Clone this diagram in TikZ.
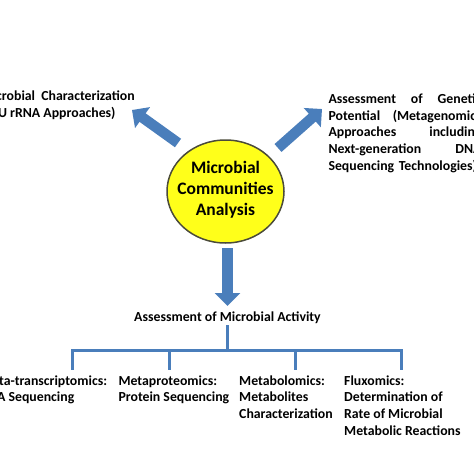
\documentclass[tikz,border=0pt]{standalone}
\usepackage{fontspec}
\setmainfont{Carlito}
\usetikzlibrary{arrows.meta,shapes.geometric}
\definecolor{arrowblue}{HTML}{4A7EBB}
\definecolor{hubyellow}{HTML}{FFFF1A}
\definecolor{hubrim}{HTML}{4B4B3A}
\begin{document}
\begin{tikzpicture}[x=1pt, y=-1pt]
    \tikzset{topic/.style={font=\bfseries\fontsize{13.8}{16.7}\selectfont,
        align=left, inner sep=0pt}}
    \tikzset{hub/.style={ellipse, draw=hubrim, line width=1.5pt,
        fill=hubyellow, minimum width=117pt, minimum height=103pt, inner sep=0pt}}
    \tikzset{hub text/.style={font=\bfseries\fontsize{17.5}{21}\selectfont,
        align=center, inner sep=0pt}}
    \tikzset{block arrow/.style={arrowblue, line width=10.5pt,
        -{Triangle[length=13pt, width=25pt]}}}
    \tikzset{branch/.style={arrowblue, line width=3pt, line cap=rect}}

    \useasboundingbox (0,0) rectangle (474,474);
    \clip (0,0) rectangle (474,474);

    \node (hub) [hub] at (225.5,191.5) {};
    \node (hubtext) [hub text] at (225.5,189.5) {Microbial\\Communities\\Analysis};

    % base anchor: last line, or first line when a text width is set
    \node (charac) [topic, anchor=base east] at (135,117.3)
        {Microbial\ \ Characterization\\(SSU rRNA Approaches)};
    \node (genetic) [topic, anchor=base west, text width=153pt] at (328.3,103.3)
        {Assessment\hfill of\hfill Genetic\\Potential\hfill (Metagenomics\\
         Approaches\hfill including\\Next-generation\hfill DNA\\
         Sequencing Technologies)};
    \node (activity) [topic, anchor=base] at (227.5,321.7)
        {Assessment of Microbial Activity};

    \coordinate (charac tail) at (178,143);
    \coordinate (charac tip) at (132,110);
    \coordinate (genetic tail) at (278,148);
    \coordinate (genetic tip) at (322,109);
    \coordinate (activity tail) at (227.5,248);
    \coordinate (activity tip) at (227.5,306);

    \draw [block arrow] (charac tail) -- (charac tip);
    \draw [block arrow] (genetic tail) -- (genetic tip);
    \draw [block arrow] (activity tail) -- (activity tip);

    \node (col1) [topic, anchor=base west] at (-20,401.7)
        {Meta-transcriptomics:\\RNA Sequencing};
    \node (col2) [topic, anchor=base west] at (118.3,401.7)
        {Metaproteomics:\\Protein Sequencing};
    \node (col3) [topic, anchor=base west] at (239,418.4)
        {Metabolomics:\\Metabolites\\Characterization};
    \node (col4) [topic, anchor=base west] at (344,435.1)
        {Fluxomics:\\Determination of\\Rate of Microbial\\Metabolic Reactions};

    \coordinate (fork) at (227.5,350);
    \coordinate (b1) at (72,350);
    \coordinate (b2) at (169.3,350);
    \coordinate (b3) at (295,350);
    \coordinate (b4) at (401,350);

    \draw [branch, shorten <=2pt] (activity) -- (fork);
    \draw [branch] (b1) -- (b4);
    \foreach \i in {1,...,4}
        \draw [branch, shorten >=7pt] (b\i) -- (b\i |- col\i.north);
\end{tikzpicture}
\end{document}
